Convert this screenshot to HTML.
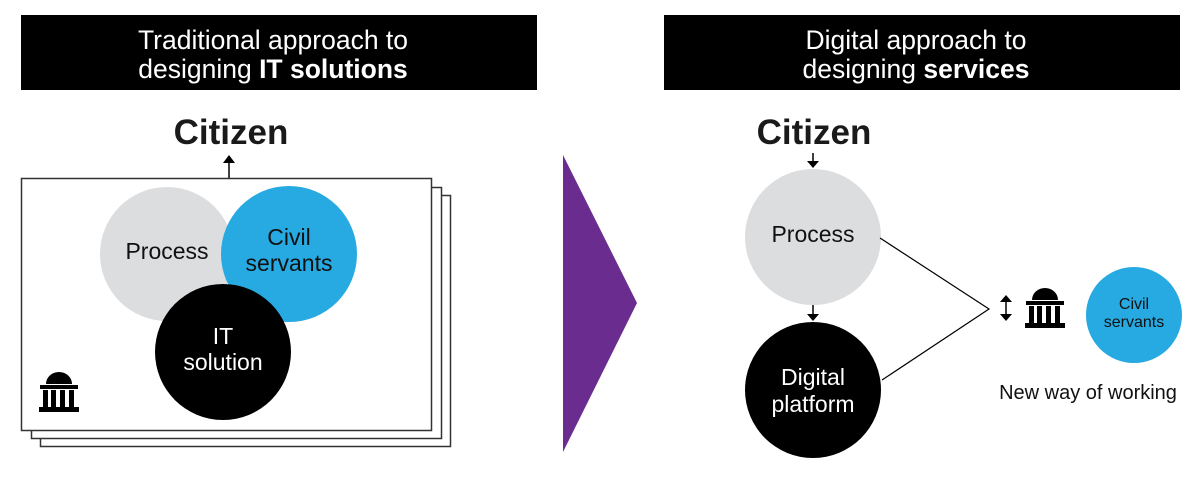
<!DOCTYPE html>
<html><head><style>
body{margin:0;width:1200px;height:474px;background:#fff;overflow:hidden}
svg text{font-family:"Liberation Sans",sans-serif}
</style></head><body>
<svg width="1200" height="474" viewBox="0 0 1200 474">
<rect x="21" y="15" width="516" height="75" fill="#000"/>
<text x="273" y="49" fill="#fff" font-size="26.5" text-anchor="middle">Traditional approach to</text>
<text x="273" y="78" fill="#fff" font-size="26.5" text-anchor="middle">designing <tspan font-weight="bold">IT solutions</tspan></text>
<rect x="664" y="15" width="516" height="75" fill="#000"/>
<text x="916" y="49" fill="#fff" font-size="26.5" text-anchor="middle">Digital approach to</text>
<text x="916" y="78" fill="#fff" font-size="26.5" text-anchor="middle">designing <tspan font-weight="bold">services</tspan></text>

<text x="231" y="144" font-size="35" font-weight="bold" text-anchor="middle" fill="#1a1a1a">Citizen</text>
<line x1="229" y1="178" x2="229" y2="162" stroke="#000" stroke-width="1.5"/>
<polygon points="223,163 235,163 229,155" fill="#000"/>

<rect x="40.5" y="195.5" width="410" height="251" fill="#fff" stroke="#333" stroke-width="1.5"/>
<rect x="31.5" y="187.5" width="410" height="251" fill="#fff" stroke="#333" stroke-width="1.5"/>
<rect x="21.5" y="178.5" width="410" height="252" fill="#fff" stroke="#333" stroke-width="1.5"/>
<circle cx="167" cy="254" r="67" fill="#dcdddf"/>
<circle cx="289" cy="254" r="68" fill="#27a9e1"/>
<circle cx="223" cy="352" r="68" fill="#000"/>
<text x="167" y="259" font-size="23" text-anchor="middle" fill="#111">Process</text>
<text x="289" y="245" font-size="23" text-anchor="middle" fill="#111">Civil</text>
<text x="289" y="271" font-size="23" text-anchor="middle" fill="#111">servants</text>
<text x="223" y="344" font-size="23" text-anchor="middle" fill="#fff">IT</text>
<text x="223" y="370" font-size="23" text-anchor="middle" fill="#fff">solution</text>
<g transform="translate(39,373)">
<path d="M7,11 A13,12 0 0 1 33,11 Z" fill="#000"/>
<rect x="1" y="12" width="38" height="4" fill="#000"/>
<rect x="4" y="17" width="5" height="17" fill="#000"/><rect x="12" y="17" width="5" height="17" fill="#000"/><rect x="21" y="17" width="5" height="17" fill="#000"/><rect x="30" y="17" width="5" height="17" fill="#000"/>
<rect x="0" y="34" width="40" height="5" fill="#000"/>
</g>

<polygon points="563,155 637,303 563,452" fill="#6b2c8f"/>

<text x="814" y="144" font-size="35" font-weight="bold" text-anchor="middle" fill="#1a1a1a">Citizen</text>
<line x1="813" y1="153" x2="813" y2="162" stroke="#000" stroke-width="1.5"/>
<polygon points="807,161 819,161 813,168" fill="#000"/>
<circle cx="813" cy="237" r="68" fill="#dcdddf"/>
<text x="813" y="242" font-size="23" text-anchor="middle" fill="#111">Process</text>
<line x1="813" y1="305" x2="813" y2="315" stroke="#000" stroke-width="1.5"/>
<polygon points="807,314 819,314 813,321" fill="#000"/>
<circle cx="813" cy="390" r="68" fill="#000"/>
<text x="813" y="385" font-size="23" text-anchor="middle" fill="#fff">Digital</text>
<text x="813" y="412" font-size="23" text-anchor="middle" fill="#fff">platform</text>
<polyline points="880,238 989,309 882,380" fill="none" stroke="#000" stroke-width="1.2"/>
<line x1="1006" y1="300" x2="1006" y2="316" stroke="#000" stroke-width="1.5"/>
<polygon points="1000,302 1012,302 1006,295" fill="#000"/>
<polygon points="1000,314 1012,314 1006,321" fill="#000"/>
<g transform="translate(1025,289)">
<path d="M7,11 A13,12 0 0 1 33,11 Z" fill="#000"/>
<rect x="1" y="12" width="38" height="4" fill="#000"/>
<rect x="4" y="17" width="5" height="17" fill="#000"/><rect x="12" y="17" width="5" height="17" fill="#000"/><rect x="21" y="17" width="5" height="17" fill="#000"/><rect x="30" y="17" width="5" height="17" fill="#000"/>
<rect x="0" y="34" width="40" height="5" fill="#000"/>
</g>
<circle cx="1134" cy="315" r="48" fill="#27a9e1"/>
<text x="1134" y="309" font-size="16" text-anchor="middle" fill="#111">Civil</text>
<text x="1134" y="327" font-size="16" text-anchor="middle" fill="#111">servants</text>
<text x="1088" y="399" font-size="20" text-anchor="middle" fill="#111">New way of working</text>
</svg>
</body></html>
